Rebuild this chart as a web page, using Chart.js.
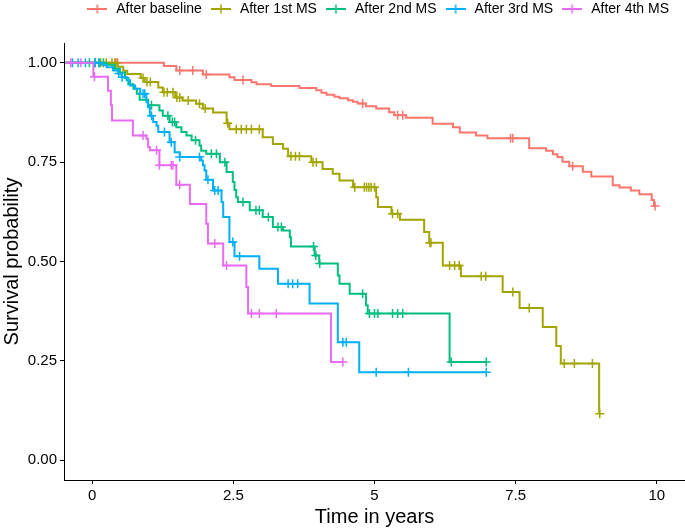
<!DOCTYPE html>
<html>
<head>
<meta charset="utf-8">
<script src="https://cdn.jsdelivr.net/npm/chart.js@4.4.1/dist/chart.umd.min.js"></script>
<style>
html,body{margin:0;padding:0;background:#ffffff;}
#c{display:block;}
</style>
</head>
<body>
<canvas id="c" width="685" height="529" style="width:685px;height:529px"></canvas>
<script>
// ---------- data ----------
const seriesNames = ["After baseline", "After 1st MS", "After 2nd MS", "After 3rd MS", "After 4th MS"];
const seriesColors = ["#F8766D", "#A3A500", "#00BF7D", "#00B0F6", "#E76BF3"];
const xTickValues = [0, 2.5, 5, 7.5, 10];
const yTickValues = [0, 0.25, 0.5, 0.75, 1];

const baselineTime = [-0.47, 1.27, 1.49, 1.96, 2.43, 2.52, 2.82, 2.91, 3.17, 3.67, 3.97, 4.06, 4.15, 4.29, 4.38, 4.53, 4.62, 4.70, 4.85, 5.03, 5.26, 5.35, 5.56, 6.03, 6.39, 6.51, 6.80, 7.00, 7.74, 8.04, 8.16, 8.24, 8.33, 8.45, 8.69, 8.84, 9.22, 9.34, 9.54, 9.69, 9.91, 9.95, 9.97];
const baselineSurv = [1, 0.992, 0.981, 0.971, 0.964, 0.957, 0.951, 0.946, 0.942, 0.937, 0.931, 0.925, 0.920, 0.915, 0.911, 0.906, 0.902, 0.898, 0.891, 0.885, 0.876, 0.868, 0.862, 0.847, 0.838, 0.825, 0.817, 0.810, 0.785, 0.779, 0.770, 0.763, 0.751, 0.740, 0.726, 0.714, 0.692, 0.686, 0.679, 0.669, 0.655, 0.640, 0.640];
const baselineCensor = [0.40, 0.45, 1.55, 1.78, 2.02, 2.67, 4.79, 5.41, 5.50, 7.41, 7.45, 8.51, 9.97];

const ms1Time = [-0.47, 0.45, 0.55, 0.62, 0.86, 0.93, 1.17, 1.25, 1.47, 1.60, 1.84, 1.96, 2.14, 2.38, 2.43, 3.02, 3.20, 3.38, 3.47, 3.88, 4.08, 4.26, 4.38, 4.62, 5.03, 5.06, 5.30, 5.45, 5.88, 5.97, 6.21, 6.53, 7.27, 7.57, 7.98, 8.22, 8.30, 8.98];
const ms1Surv = [1, 0.990, 0.980, 0.972, 0.962, 0.952, 0.938, 0.926, 0.913, 0.905, 0.897, 0.885, 0.875, 0.848, 0.833, 0.813, 0.796, 0.784, 0.765, 0.750, 0.733, 0.721, 0.704, 0.687, 0.662, 0.637, 0.620, 0.605, 0.574, 0.547, 0.490, 0.463, 0.423, 0.383, 0.335, 0.287, 0.243, 0.117];
const ms1Censor = [0.05, 0.15, 0.25, 0.35, 0.42, 0.90, 0.97, 1.03, 1.27, 1.33, 1.43, 1.50, 1.55, 1.70, 1.90, 2.00, 2.40, 2.55, 2.64, 2.73, 2.82, 2.96, 3.52, 3.60, 3.67, 3.91, 3.97, 4.65, 4.82, 4.86, 4.90, 4.94, 5.00, 5.32, 5.41, 5.98, 6.00, 6.33, 6.42, 6.50, 6.89, 6.97, 7.45, 7.74, 8.36, 8.54, 8.86, 8.99];

const ms2Time = [-0.47, 0.23, 0.40, 0.49, 0.58, 0.64, 0.73, 0.79, 0.84, 0.99, 1.19, 1.25, 1.37, 1.49, 1.58, 1.67, 1.76, 1.90, 1.93, 2.02, 2.26, 2.38, 2.49, 2.52, 2.55, 2.58, 2.79, 3.02, 3.20, 3.38, 3.50, 3.52, 3.94, 4.02, 4.35, 4.38, 4.56, 4.85, 4.88, 6.33, 6.98];
const ms2Surv = [1, 0.995, 0.985, 0.976, 0.962, 0.946, 0.935, 0.922, 0.907, 0.893, 0.880, 0.867, 0.851, 0.838, 0.826, 0.817, 0.805, 0.792, 0.779, 0.771, 0.750, 0.725, 0.700, 0.680, 0.662, 0.650, 0.629, 0.612, 0.587, 0.578, 0.561, 0.538, 0.515, 0.495, 0.465, 0.444, 0.419, 0.390, 0.369, 0.247, 0.247];
const ms2Censor = [-0.05, 0.05, 0.12, 0.20, 1.05, 1.34, 1.42, 1.46, 1.83, 2.11, 2.20, 2.35, 2.67, 2.90, 2.96, 3.12, 3.29, 3.35, 3.92, 3.96, 4.03, 4.79, 4.91, 5.00, 5.06, 5.32, 5.41, 5.50, 6.36, 6.98];

const ms3Time = [-0.47, 0.17, 0.26, 0.37, 0.46, 0.52, 0.61, 0.67, 0.76, 0.85, 0.96, 0.99, 1.02, 1.08, 1.14, 1.17, 1.37, 1.46, 1.55, 1.93, 1.96, 1.99, 2.02, 2.14, 2.29, 2.32, 2.43, 2.52, 2.96, 3.29, 3.85, 4.35, 4.73, 6.98];
const ms3Surv = [1, 0.995, 0.989, 0.981, 0.973, 0.964, 0.956, 0.943, 0.935, 0.922, 0.901, 0.888, 0.867, 0.851, 0.842, 0.826, 0.800, 0.775, 0.763, 0.754, 0.742, 0.729, 0.706, 0.679, 0.650, 0.612, 0.549, 0.513, 0.482, 0.444, 0.394, 0.297, 0.221, 0.221];
const ms3Censor = [-0.35, -0.25, -0.12, 0.05, 0.12, 0.47, 0.53, 0.90, 0.93, 1.05, 1.28, 1.40, 1.55, 1.90, 2.05, 2.17, 2.23, 2.49, 2.61, 3.47, 3.55, 3.64, 4.44, 4.50, 5.03, 5.60, 6.98];

const ms4Time = [-0.47, 0.02, 0.28, 0.33, 0.35, 0.72, 0.96, 0.99, 1.02, 1.19, 1.49, 1.73, 2.02, 2.05, 2.32, 2.73, 2.76, 4.23, 4.44];
const ms4Surv = [1, 0.965, 0.930, 0.893, 0.855, 0.817, 0.809, 0.788, 0.780, 0.742, 0.693, 0.645, 0.595, 0.545, 0.490, 0.436, 0.369, 0.247, 0.247];
const ms4Censor = [-0.38, -0.20, 0.04, 0.90, 1.14, 1.19, 1.40, 1.43, 1.55, 2.17, 2.38, 2.82, 2.96, 3.26, 4.44];

// ---------- build ----------
const allTimes = [baselineTime, ms1Time, ms2Time, ms3Time, ms4Time];
const allSurv = [baselineSurv, ms1Surv, ms2Surv, ms3Surv, ms4Surv];
const allCensor = [baselineCensor, ms1Censor, ms2Censor, ms3Censor, ms4Censor];

function stepValue(times, surv, t) {
  let v = surv[0];
  for (let i = 0; i < times.length; i++) { if (times[i] <= t) v = surv[i]; }
  return v;
}

const datasets = [];
seriesNames.forEach((name, i) => {
  datasets.push({
    type: 'line',
    label: name,
    data: allTimes[i].map((t, k) => ({x: t, y: allSurv[i][k]})),
    borderColor: seriesColors[i],
    backgroundColor: seriesColors[i],
    borderWidth: 2,
    pointRadius: 0,
    stepped: true,
    fill: false,
    tension: 0,
    order: 10 - 2 * i
  });
  datasets.push({
    type: 'scatter',
    label: name + ' censor',
    data: allCensor[i].map(t => ({x: t, y: stepValue(allTimes[i], allSurv[i], t)})),
    borderColor: seriesColors[i],
    backgroundColor: seriesColors[i],
    pointStyle: 'cross',
    pointRadius: 4.5,
    borderWidth: 1.5,
    showLine: false,
    order: 10 - 2 * i - 1
  });
});

function legendMarker(color) {
  const cv = document.createElement('canvas');
  cv.width = 20; cv.height = 12;
  const g = cv.getContext('2d');
  g.strokeStyle = color; g.lineWidth = 2;
  g.beginPath(); g.moveTo(0, 6); g.lineTo(20, 6); g.stroke();
  g.lineWidth = 1.5;
  g.beginPath(); g.moveTo(10, 1.5); g.lineTo(10, 10.5); g.stroke();
  return cv;
}
const markers = seriesColors.map(legendMarker);

Chart.defaults.font.family = "'Liberation Sans', Arial, sans-serif";
Chart.defaults.color = '#000';

const legendPlace = {
  id: 'legendPlace',
  beforeInit(chart) {
    const lg = chart.legend;
    const orig = lg.fit;
    lg.fit = function () { orig.call(lg); lg.height = 43; };
  },
  afterLayout(chart) {
    const lg = chart.legend;
    lg.top -= 5;
    lg.right -= 9;
    lg.width = lg.right - lg.left;
  }
};

new Chart(document.getElementById('c'), {
  data: { datasets },
  plugins: [legendPlace],
  options: {
    responsive: false,
    animation: false,
    events: [],
    layout: { padding: 0, autoPadding: false },
    plugins: {
      tooltip: { enabled: false },
      legend: {
        position: 'top',
        align: 'end',
        labels: {
          usePointStyle: true,
          pointStyleWidth: 24,
          boxHeight: 12,
          padding: 7,
          font: { size: 14 },
          color: '#000',
          generateLabels: () => seriesNames.map((n, i) => ({
            text: n, fillStyle: seriesColors[i], strokeStyle: seriesColors[i],
            lineWidth: 0, pointStyle: markers[i], hidden: false, datasetIndex: 2 * i
          }))
        }
      }
    },
    scales: {
      x: {
        type: 'linear',
        min: -0.5, max: 10.5,
        afterBuildTicks: s => { s.ticks = xTickValues.map(v => ({value: v})); },
        afterFit: s => { s.height = 49; s.paddingLeft = 0; s.paddingRight = 0; },
        ticks: { callback: v => String(v), font: { size: 15 }, color: '#000', padding: 3, maxRotation: 0, autoSkip: false },
        grid: { display: true, drawOnChartArea: false, drawTicks: true, tickLength: 4, color: '#000' },
        border: { display: true, color: '#000', width: 1 },
        title: { display: true, text: 'Time in years', font: { size: 20 }, color: '#000', padding: { top: 0, bottom: 0 } }
      },
      y: {
        type: 'linear',
        min: -0.05, max: 1.05,
        afterBuildTicks: s => { s.ticks = yTickValues.map(v => ({value: v})); },
        afterFit: s => { s.width = 64; s.paddingTop = 0; s.paddingBottom = 0; },
        ticks: { callback: v => Number(v).toFixed(2), font: { size: 15 }, color: '#000', padding: 3, autoSkip: false },
        grid: { display: true, drawOnChartArea: false, drawTicks: true, tickLength: 4, color: '#000' },
        border: { display: true, color: '#000', width: 1 },
        title: { display: true, text: 'Survival probability', font: { size: 20 }, color: '#000', padding: { top: 0, bottom: 0 } }
      }
    }
  }
});
</script>
</body>
</html>
